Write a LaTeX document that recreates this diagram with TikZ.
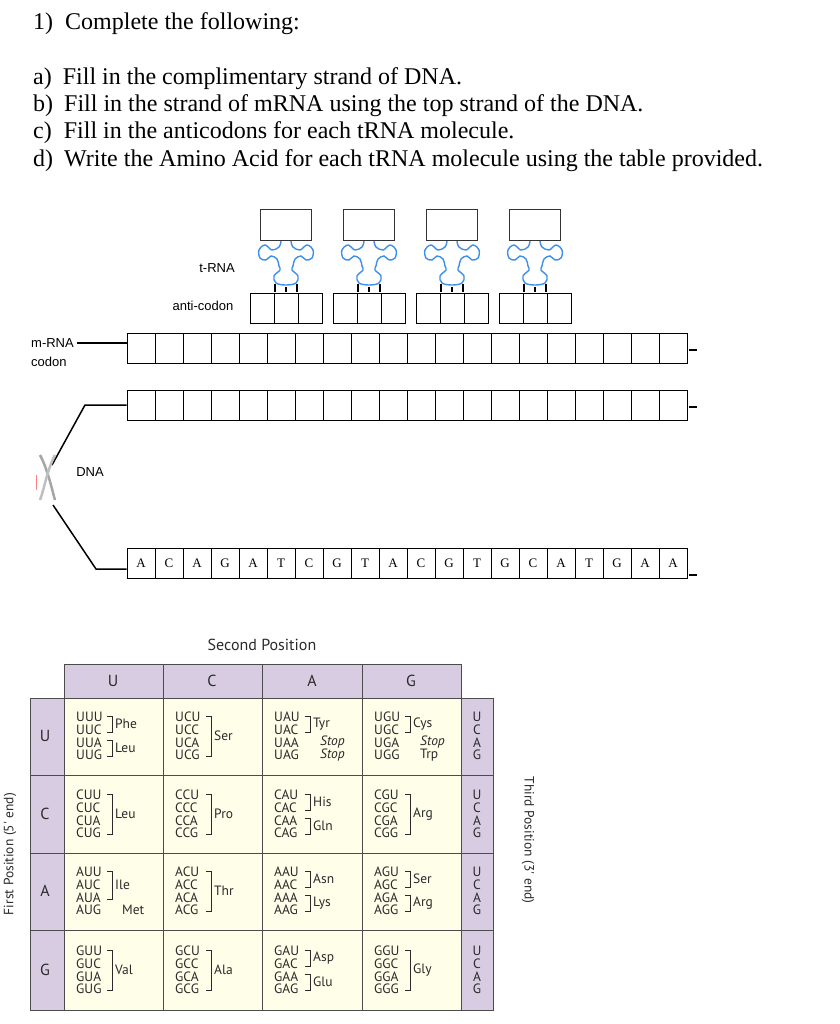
\documentclass[tikz,border=0pt]{standalone}
\usepackage{fontspec}
\setmainfont{Liberation Serif}
\newfontfamily\tsans{PT Sans}
\newfontfamily\lsans{Liberation Sans}
\definecolor{lav}{HTML}{D8CCE2}
\definecolor{crm}{HTML}{FFFFE9}
\definecolor{tblue}{HTML}{3D8FE8}
\definecolor{tx}{HTML}{2A2A2A}
\newcommand\codons[6]{%
  \node[cod] at ({#1+12},{#2-19}) {#3};
  \node[cod] at ({#1+12},{#2-6.3}) {#4};
  \node[cod] at ({#1+12},{#2+6.3}) {#5};
  \node[cod] at ({#1+12},{#2+19}) {#6};}
\newcommand\brk[5]{% x, ycenter, top, bottom, label
  \draw[brk] ({#1+43},{#2+#3}) -- ({#1+48},{#2+#3}) -- ({#1+48},{#2+#4}) -- ({#1+43},{#2+#4});
  \node[cod] at ({#1+51},{#2+(#3+#4)/2}) {#5};}
\begin{document}
\begin{tikzpicture}[x=1pt,y=-1pt,
  cell/.style={draw=black,line width=0.8pt,minimum width=28pt,minimum height=30pt,inner sep=0pt},
  ac/.style={draw=black,line width=0.9pt,minimum width=24pt,minimum height=30pt,inner sep=0pt},
  top/.style={draw=black!80,line width=0.9pt,minimum width=51pt,minimum height=31pt,inner sep=0pt},
  q/.style={anchor=base west,font=\fontsize{24}{25}\selectfont,inner sep=0pt},
  sm/.style={font=\lsans\fontsize{13}{14}\selectfont,inner sep=0pt},
  cod/.style={anchor=west,inner sep=0pt,text=tx,font=\tsans\fontsize{13.5}{13}\selectfont},
  big/.style={font=\tsans\fontsize{16}{16}\selectfont,text=tx},
  brk/.style={draw=tx,line width=0.7pt},
  grid/.style={draw=black!70,line width=0.9pt},
  dna/.style={line width=1.5pt,black}]
\useasboundingbox (0,0) rectangle (839,1024);
% questions
\node[q] (t0) at (33,30) {1)\hspace{12pt}Complete the following:};
\node[q] (ta) at (33,85) {a)\hspace{11pt}Fill in the complimentary strand of DNA.};
\node[q] (tb) at (33,112) {b)\hspace{11pt}Fill in the strand of mRNA using the top strand of the DNA.};
\node[q] (tc) at (33,139) {c)\hspace{12pt}Fill in the anticodons for each tRNA molecule.};
\node[q] (td) at (33,167) {d)\hspace{11pt}Write the Amino Acid for each tRNA molecule using the table provided.};
% tRNA
\foreach \i in {0,1,2,3}{
  \pgfmathsetmacro\cx{286+83*\i}
  \node[top] (aa\i) at (\cx,225) {};
  \draw[tblue,line width=1.4pt] plot[smooth,tension=0.6] coordinates {
   (\cx-5,241) (\cx-7,247) (\cx-14,250) (\cx-21,245) (\cx-27,250) (\cx-26,258) (\cx-20,260) (\cx-15,256) (\cx-9,259)
   (\cx-7,266) (\cx-6,270) (\cx-12,276) (\cx-10,283) (\cx,285) (\cx+10,283) (\cx+12,276) (\cx+6,270) (\cx+7,266)
   (\cx+9,259) (\cx+15,256) (\cx+20,260) (\cx+26,258) (\cx+27,250) (\cx+21,245) (\cx+14,250) (\cx+7,247) (\cx+5,241)};
  \draw[line width=1.3pt] (\cx-11,284)--(\cx-11,292) (\cx,287)--(\cx,292) (\cx+11,284)--(\cx+11,292);
  \foreach \j in {0,1,2}{ \node[ac] (ac\i\j) at ({\cx-24+24*\j},308) {}; }
}
\node[sm] (trna) at (217,268) {t-RNA};
\node[sm] (anti) at (203,306) {anti-codon};
% mRNA
\foreach \k in {0,...,19}{ \node[cell] (m\k) at ({141+28*\k},348) {}; }
\draw[line width=1.3pt] (689,350)--(697,350);
\node[sm,anchor=west] (mrna) at (31,343) {m-RNA};
\node[sm,anchor=west] (codon) at (31,362) {codon};
\draw[line width=1.2pt] (mrna.east)+(3,0) -- (m0.west |- mrna.east);
% DNA top strand
\foreach \k in {0,...,19}{ \node[cell] (d\k) at ({141+28*\k},405) {}; }
\draw[line width=1.3pt] (689,407)--(697,407);
% DNA bottom strand
\foreach \b [count=\k from 0] in {A,C,A,G,A,T,C,G,T,A,C,G,T,G,C,A,T,G,A,A}{
  \node[cell,font=\fontsize{13}{13}\selectfont] (e\k) at ({141+28*\k},563) {\b}; }
\draw[line width=1.3pt] (689,575)--(697,575);
\coordinate (k1) at (85,405); \coordinate (k2) at (96,569);
\draw[dna] (d0.west) -- (k1) -- (52,465);
\draw[dna] (e0.west |- k2) -- (k2) -- (53,505);
\draw[black!35,line width=2.5pt] (40,455) .. controls (48,470) and (52,490) .. (55,500);
\draw[black!25,line width=2.5pt] (55,455) .. controls (47,470) and (44,490) .. (40,500);
\draw[red!50,line width=1pt] (36,475)--(36,490);
\node[sm] (dnal) at (90,472) {DNA};
% table
\node[font=\tsans\fontsize{16}{16}\selectfont,text=tx] (sec) at (262,645) {Second Position};
\fill[lav] (64,664) rectangle (461,698);
\fill[lav] (30,698) rectangle (64,1010);
\fill[lav] (461,698) rectangle (493,1010);
\fill[crm] (64,698) rectangle (461,1010);
\draw[grid] (64,664) rectangle (461,1010);
\draw[grid] (30,698) rectangle (493,1010);
\foreach \x in {163,262,362}{ \draw[grid] (\x,664)--(\x,1010); }
\foreach \y in {775,853,930}{ \draw[grid] (30,\y)--(493,\y); }
\foreach \l/\x in {U/113,C/212,A/312,G/411}{ \node[big] at (\x,681) {\l}; }
\foreach \l/\y in {U/736,C/814,A/891,G/970}{
  \node[big] at (45,\y) {\l};
  \foreach \t/\o in {U/-19,C/-6.3,A/6.3,G/19}{ \node[font=\tsans\fontsize{13.5}{13}\selectfont,text=tx,inner sep=0pt] at (477,\y+\o) {\t}; } }
\node[rotate=90,font=\tsans\fontsize{13.5}{13}\selectfont,text=tx] (fp) at (10,854) {First Position (5' end)};
\node[rotate=-90,font=\tsans\fontsize{13.5}{13}\selectfont,text=tx] (tp) at (528,840) {Third Position (3' end)};
% row U
\codons{64}{736}{UUU}{UUC}{UUA}{UUG}
\brk{64}{736}{-20}{-4}{Phe} \brk{64}{736}{4}{20}{Leu}
\codons{163}{736}{UCU}{UCC}{UCA}{UCG}
\brk{163}{736}{-20}{20}{Ser}
\codons{262}{736}{UAU}{UAC}{UAA}{UAG}
\brk{262}{736}{-20}{-4}{Tyr}
\node[cod] at (320,742.3) {\itshape Stop}; \node[cod] at (320,755) {\itshape Stop};
\codons{362}{736}{UGU}{UGC}{UGA}{UGG}
\brk{362}{736}{-20}{-4}{Cys}
\node[cod] at (420,742.3) {\itshape Stop}; \node[cod] at (420,755) {Trp};
% row C
\codons{64}{814}{CUU}{CUC}{CUA}{CUG}
\brk{64}{814}{-20}{20}{Leu}
\codons{163}{814}{CCU}{CCC}{CCA}{CCG}
\brk{163}{814}{-20}{20}{Pro}
\codons{262}{814}{CAU}{CAC}{CAA}{CAG}
\brk{262}{814}{-20}{-4}{His} \brk{262}{814}{4}{20}{Gln}
\codons{362}{814}{CGU}{CGC}{CGA}{CGG}
\brk{362}{814}{-20}{20}{Arg}
% row A
\codons{64}{891}{AUU}{AUC}{AUA}{AUG}
\brk{64}{891}{-20}{8}{Ile}
\node[cod] at (122,910) {Met};
\codons{163}{891}{ACU}{ACC}{ACA}{ACG}
\brk{163}{891}{-20}{20}{Thr}
\codons{262}{891}{AAU}{AAC}{AAA}{AAG}
\brk{262}{891}{-20}{-4}{Asn} \brk{262}{891}{4}{20}{Lys}
\codons{362}{891}{AGU}{AGC}{AGA}{AGG}
\brk{362}{891}{-20}{-4}{Ser} \brk{362}{891}{4}{20}{Arg}
% row G
\codons{64}{970}{GUU}{GUC}{GUA}{GUG}
\brk{64}{970}{-20}{20}{Val}
\codons{163}{970}{GCU}{GCC}{GCA}{GCG}
\brk{163}{970}{-20}{20}{Ala}
\codons{262}{970}{GAU}{GAC}{GAA}{GAG}
\brk{262}{970}{-20}{-4}{Asp} \brk{262}{970}{4}{20}{Glu}
\codons{362}{970}{GGU}{GGC}{GGA}{GGG}
\brk{362}{970}{-20}{20}{Gly}
\end{tikzpicture}
\end{document}
